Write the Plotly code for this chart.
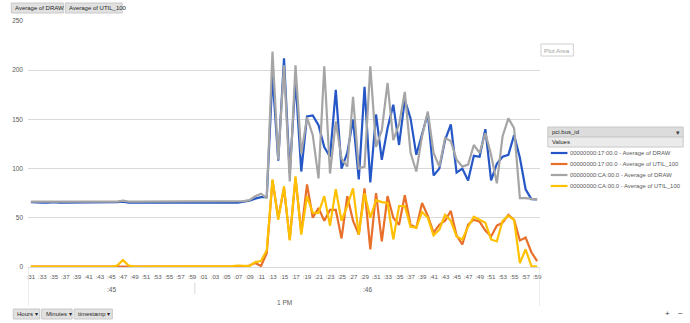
import plotly.graph_objects as go

# ---------------- data ----------------
minute_45_seconds = list(range(31, 60))
minute_46_seconds = list(range(0, 60))
minutes = [":45"] * len(minute_45_seconds) + [":46"] * len(minute_46_seconds)
seconds = minute_45_seconds + minute_46_seconds
hour_label = "1 PM"

draw_17 = [66, 65.5, 65.5, 65.5, 66, 65.5, 65.5, 65.5, 65.5, 65.5, 65.5, 65.5, 65.5, 65.5, 65.5, 66,
           66.5, 65.5, 65.5, 65.5, 65.5, 65.5, 65.5, 65.5, 65.5, 65.5, 65.5, 66, 66, 66,
           66, 66, 66, 66, 65.5, 65.5, 65.5, 66.5, 67.5, 69.5, 71, 71,
           195, 108, 212, 95, 190, 97, 153, 154, 144, 122, 112, 180, 100, 116, 150, 89,
           183, 86, 155, 109, 141, 165, 124, 170, 151, 114, 136, 156, 93, 100, 129, 145,
           96, 100, 88, 113, 112, 140, 88, 105, 112, 114, 134, 111, 79, 69, 68.6]
util_17 = [0.3] * 16 + [0.5] + [0.3] * 20 + [0.5, 1.5, 4, 1, 14,
           88, 50, 80, 28, 90, 35, 84, 50, 60, 47, 58, 58, 29, 72, 47, 33,
           80, 18, 75, 26, 72, 50, 43, 73, 43, 40, 65, 52, 35, 43, 47, 57,
           32, 23, 43, 48, 46, 37, 31, 42, 45, 53, 48, 27, 30, 15, 6]
draw_ca = [66.5] * 16 + [67.5] + [66.5] * 20 + [67, 68, 72, 74.5, 70,
           219, 109, 205, 87, 205, 115, 152, 134, 90, 204, 95, 148, 110, 102, 173, 100,
           102, 204, 122, 139, 187, 129, 145, 178, 116, 97, 133, 158, 116, 102, 131, 128,
           109, 102, 104, 124, 116, 136, 114, 85, 133, 151, 141, 70, 70, 69, 68.6]
util_ca = [0.3, 0.3, 0.3, 0.5, 1, 0.5, 0.3, 0.3, 0.3, 0.3, 0.3, 0.3, 0.3, 0.3, 0.3, 1.5,
           7, 1.5, 0.3, 0.3, 0.3, 0.3, 0.3, 0.3, 0.3, 0.3, 0.3, 0.3, 0.3, 0.3,
           1, 0.5, 0.3, 0.3, 0.5, 1, 1.5, 1, 1, 5, 6, 17,
           89, 48, 82, 27, 92, 33, 72, 55, 55, 72, 42, 79, 47, 62, 80, 33,
           75, 50, 68, 66, 65, 28, 62, 62, 41, 40, 56, 50, 32, 38, 53, 47,
           31, 28, 41, 51, 48, 45, 28, 26, 47, 52, 48, 4, 18, 1, 0.3]

series_names = ["00000000:17:00.0 - Average of DRAW",
                "00000000:17:00.0 - Average of UTIL_100",
                "00000000:CA:00.0 - Average of DRAW",
                "00000000:CA:00.0 - Average of UTIL_100"]
series_values = [draw_17, util_17, draw_ca, util_ca]
series_colors = ["#2557c6", "#e8702a", "#a5a5a5", "#ffc000"]

# ---------------- geometry ----------------
FIG_W, FIG_H = 690, 323
L, T, W, H = 18, 21, 522, 246
FONT = "Liberation Sans, Arial, sans-serif"
TXT = "#595959"


def pxx(px):
    return (px - L) / W


def pxy(py):
    return (T + H - py) / H


n = len(seconds)
xs = list(range(n))

fig = go.Figure()
for name, vals, col in zip(series_names, series_values, series_colors):
    fig.add_trace(go.Scatter(x=xs, y=vals, mode="lines", name=name,
                             line=dict(color=col, width=2.2), showlegend=False,
                             hoverinfo="skip"))

tickvals = [i for i in xs if i % 2 == 0]
ticktext = [":%02d" % seconds[i] for i in tickvals]

shapes = []
annotations = []


def text(px, py, s, size=6.2, color=TXT, anchor="center"):
    annotations.append(dict(x=pxx(px), y=pxy(py), xref="paper", yref="paper", text=s,
                            showarrow=False, xanchor=anchor, yanchor="middle",
                            font=dict(size=size, color=color, family=FONT)))


# group labels (minutes) and hour label
groups = []
for m in dict.fromkeys(minutes):
    idx = [i for i, v in enumerate(minutes) if v == m]
    groups.append((m, idx[0], idx[-1]))
for m, a, b in groups:
    annotations.append(dict(x=(a + b) / 2, y=pxy(289), xref="x", yref="paper", text=m,
                            showarrow=False, xanchor="center", yanchor="middle",
                            font=dict(size=6.5, color=TXT, family=FONT)))
for m, a, b in groups[:-1]:
    shapes.append(dict(type="line", xref="x", yref="paper", x0=b + 0.5, x1=b + 0.5,
                       y0=pxy(283), y1=pxy(294), line=dict(color="#d9d9d9", width=1)))
annotations.append(dict(x=(n - 1) / 2, y=pxy(302), xref="x", yref="paper", text=hour_label,
                        showarrow=False, xanchor="center", yanchor="middle",
                        font=dict(size=6.5, color=TXT, family=FONT)))
for xv in (-0.5, n - 0.5):
    shapes.append(dict(type="line", xref="x", yref="paper", x0=xv, x1=xv,
                       y0=pxy(267), y1=pxy(306), line=dict(color="#d9d9d9", width=1)))


def button(x0, x1, y0, y1, label, fill="#e1e1e1", size=6.0):
    shapes.append(dict(type="rect", xref="paper", yref="paper", x0=pxx(x0), x1=pxx(x1),
                       y0=pxy(y1), y1=pxy(y0), fillcolor=fill,
                       line=dict(color="#c8c8c8", width=1), layer="above"))
    text(x0 + 2, (y0 + y1) / 2, label, size=size, color="#262626", anchor="left")


# pivot field buttons
button(1, 54, 3, 13, "Average of DRAW")
button(56, 114, 3, 13, "Average of UTIL_100")
button(3, 30, 309, 319, "Hours \u25be")
button(32, 63, 309, 319, "Minutes \u25be")
button(65, 104, 309, 319, "timestamp \u25be")

# "Plot Area" tooltip
shapes.append(dict(type="rect", xref="paper", yref="paper", x0=pxx(541), x1=pxx(574),
                   y0=pxy(56), y1=pxy(44), fillcolor="white",
                   line=dict(color="#d0d0d0", width=1)))
text(557.5, 50, "Plot Area", size=6.2, color="#a0a0a0")

# legend headers
button(548, 686, 127, 137, "pci.bus_id", fill="#dcdcdc")
text(681, 132, "\u25be", size=6.5, color="#404040")
button(548, 686, 137, 147, "Values", fill="#ebebeb")

# legend entries
leg_y = [153, 164, 175, 186]
for yy, name, col in zip(leg_y, series_names, series_colors):
    shapes.append(dict(type="line", xref="paper", yref="paper", x0=pxx(551), x1=pxx(568),
                       y0=pxy(yy), y1=pxy(yy), line=dict(color=col, width=2.2)))
    text(569, yy, name, size=5.9, color=TXT, anchor="left")

# zoom buttons bottom right
text(670, 313, "+", size=8, color="#404040")
text(683, 313, "\u2212", size=8, color="#404040")

fig.update_layout(
    width=FIG_W, height=FIG_H,
    margin=dict(l=L, r=FIG_W - L - W, t=T, b=FIG_H - T - H, pad=0),
    paper_bgcolor="white", plot_bgcolor="white",
    showlegend=False,
    font=dict(family=FONT, size=6.5, color=TXT),
    xaxis=dict(range=[-0.5, n - 0.5], tickmode="array", tickvals=tickvals, ticktext=ticktext,
               showgrid=False, zeroline=False, showline=False, ticks="",
               ticklabelstandoff=5,
               tickfont=dict(size=6.2, color=TXT, family=FONT), tickangle=0, fixedrange=True),
    yaxis=dict(range=[0, 250], dtick=50, tick0=0, showgrid=True, gridcolor="#d9d9d9", gridwidth=1,
               zeroline=True, zerolinecolor="#d9d9d9", zerolinewidth=1, showline=False, ticks="",
               ticklabelstandoff=4,
               tickfont=dict(size=6.5, color=TXT, family=FONT), fixedrange=True),
    shapes=shapes,
    annotations=annotations,
)

fig.write_html("out.html")
